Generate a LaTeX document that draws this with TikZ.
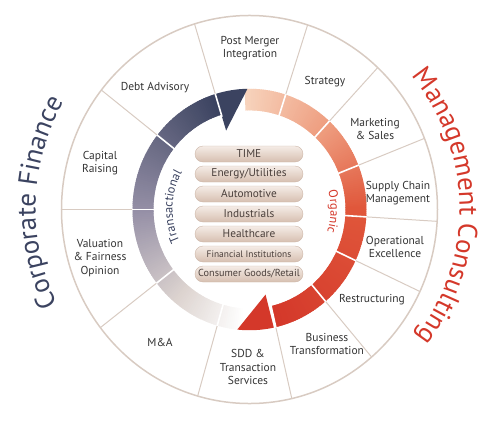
\documentclass[tikz,border=0pt]{standalone}
\usepackage{fontspec}
\setmainfont{PT Sans}
\usetikzlibrary{decorations.text}

\definecolor{cfnavy}{HTML}{3B4360}
\definecolor{cflilac}{HTML}{958FA6}
\definecolor{cfpale}{HTML}{DDD4D0}
\definecolor{mcpeach}{HTML}{F7D3BC}
\definecolor{mcsalmon}{HTML}{EE9C7E}
\definecolor{mcorange}{HTML}{E0573B}
\definecolor{mcred}{HTML}{D4382A}
\definecolor{rimbeige}{HTML}{D8CBC2}
\definecolor{pilltop}{HTML}{F5ECE6}
\definecolor{pillbot}{HTML}{D6BFB0}
\definecolor{pillrim}{HTML}{CDB7A9}
\definecolor{labelgrey}{HTML}{333333}
\definecolor{pilltext}{HTML}{4A3F3B}

\begin{document}
\begin{tikzpicture}[x=1pt,y=1pt]
\tikzstyle sector=[font=\fontsize{11.5}{13.5}\selectfont, text=labelgrey, align=center];
\tikzstyle pill=[draw=pillrim, top color=pilltop, bottom color=pillbot, rounded corners=8pt, minimum width=108pt, minimum height=16pt, inner sep=0pt, text=pilltext, font=\fontsize{11.3}{12}\selectfont];
\useasboundingbox (-249.5,-211.5) rectangle (250.5,209.5);

\begin{scope}[yscale=1.032]
% left band, navy fading out
\foreach \a in {107,...,179}{
  \pgfmathsetmacro\p{100-(\a-107)/73*100}
  \fill[cfnavy!\p!cflilac] (\a:96) arc[start angle=\a, end angle=\a+1.4, radius=96] -- ({\a+1.4}:117) arc[start angle=\a+1.4, end angle=\a, radius=117] -- cycle;
}
\foreach \a in {180,...,229}{
  \pgfmathsetmacro\p{100-(\a-180)/50*100}
  \fill[cflilac!\p!cfpale] (\a:96) arc[start angle=\a, end angle=\a+1.4, radius=96] -- ({\a+1.4}:117) arc[start angle=\a+1.4, end angle=\a, radius=117] -- cycle;
}
\foreach \a in {230,...,265}{
  \pgfmathsetmacro\p{100-(\a-230)/36*100}
  \fill[cfpale!\p!white] (\a:96) arc[start angle=\a, end angle=\a+1.4, radius=96] -- ({\a+1.4}:117) arc[start angle=\a+1.4, end angle=\a, radius=117] -- cycle;
}
% right band, peach to red
\foreach \a in {45,...,91}{
  \pgfmathsetmacro\p{(\a-45)/46*100}
  \fill[mcpeach!\p!mcsalmon] (\a:96) arc[start angle=\a, end angle=\a+1.4, radius=96] -- ({\a+1.4}:117) arc[start angle=\a+1.4, end angle=\a, radius=117] -- cycle;
}
\foreach \a in {0,...,44}{
  \pgfmathsetmacro\p{\a/45*100}
  \fill[mcsalmon!\p!mcorange] (\a:96) arc[start angle=\a, end angle=\a+1.4, radius=96] -- ({\a+1.4}:117) arc[start angle=\a+1.4, end angle=\a, radius=117] -- cycle;
}
\foreach \a in {-77,...,-1}{
  \pgfmathsetmacro\p{(\a+77)/77*100}
  \fill[mcorange!\p!mcred] (\a:96) arc[start angle=\a, end angle=\a+1.4, radius=96] -- ({\a+1.4}:117) arc[start angle=\a+1.4, end angle=\a, radius=117] -- cycle;
}
% arrow heads
\fill[cfnavy] (107:117) arc[start angle=107, end angle=91, radius=117] -- (107:80) -- cycle;
\fill[mcred] (-78:117) arc[start angle=-78, end angle=-96, radius=117] -- (-79:84) -- cycle;
% sector lines and rim
\foreach \a in {107,72,47,21.5,-3.5,-25,-49.5,-77,-106,-142.5,180,142}{
  \draw[white, line width=1.6pt] (\a:94) -- (\a:118);
  \draw[rimbeige, line width=1pt] (\a:117.5) -- (\a:188);
}
\draw[rimbeige, line width=1.5pt] (0,0) circle[radius=188];
\end{scope}

% sector labels
\node[sector] (pmi) at (0.5,161.5) {Post Merger\\Integration};
\node[sector] (strategy) at (75.5,127.5) {Strategy};
\node[sector] (marketing) at (125.5,80.5) {Marketing\\\& Sales};
\node[sector] (supply) at (148.5,16.5) {Supply Chain\\Management};
\node[sector] (opex) at (145.5,-37.5) {Operational\\Excellence};
\node[sector] (restruct) at (122.5,-90.5) {Restructuring};
\node[sector] (bizform) at (77.5,-134.5) {Business\\Transformation};
\node[sector] (sdd) at (-1.5,-157.5) {SDD \&\\Transaction\\Services};
\node[sector] (mna) at (-89.5,-132.5) {M\&A};
\node[sector] (valuation) at (-149.5,-48.5) {Valuation\\\& Fairness\\Opinion};
\node[sector] (capital) at (-149.5,46.5) {Capital\\Raising};
\node[sector] (debt) at (-94.5,121.5) {Debt Advisory};

% industry pills
\node[pill] (time) at (-0.5,55.5) {TIME};
\node[pill] (energy) at (-0.5,35.5) {Energy/Utilities};
\node[pill] (auto) at (-0.5,15.5) {Automotive};
\node[pill] (indus) at (-0.5,-4.5) {Industrials};
\node[pill] (health) at (-0.5,-24.5) {Healthcare};
\node[pill, font=\fontsize{9.4}{10}\selectfont] (fin) at (-0.5,-44.5) {Financial Institutions};
\node[pill, font=\fontsize{10.2}{11}\selectfont] (retail) at (-0.5,-64.5) {Consumer Goods/Retail};

% curved titles
\path[decorate, decoration={text along path, text align=center, text color=cfnavy,
  text={|\fontsize{27}{27}\selectfont|Corporate Finance}}]
  (212:214) arc[start angle=212, end angle=144, radius=214];
\path[decorate, decoration={text along path, text align=center, text color=mcred,
  text={|\fontsize{27}{27}\selectfont|Management Consulting}}]
  (62:210) arc[start angle=62, end angle=-60, radius=210];
\path[decorate, decoration={text along path, text align=center, text color=cfnavy,
  text={|\fontsize{12.5}{12.5}\selectfont|Transactional}}]
  (240:77) arc[start angle=240, end angle=116, radius=77];
\path[decorate, decoration={text along path, text align=center, text color=mcred,
  text={|\fontsize{12.5}{12.5}\selectfont|Organic}}]
  (50:81) arc[start angle=50, end angle=-53, radius=81];
\end{tikzpicture}
\end{document}
